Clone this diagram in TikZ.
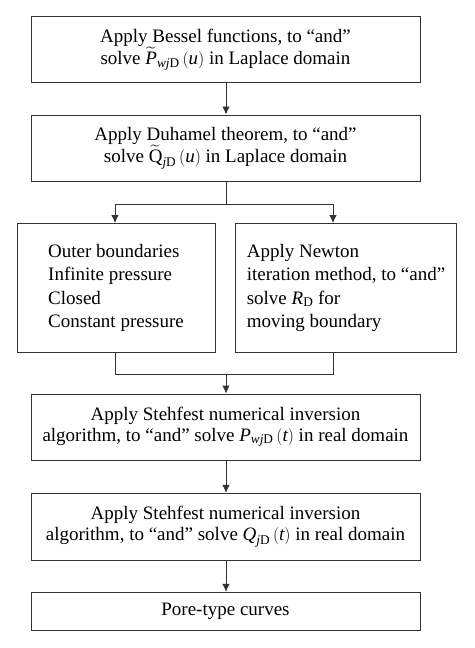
\documentclass[tikz,border=0pt]{standalone}
\usepackage{amsmath}
\usepackage{fontspec}
\setmainfont{Liberation Serif}
\usetikzlibrary{arrows.meta}
\begin{document}
\begin{tikzpicture}[x=1pt,y=-1pt,
  box/.style={draw=black!80, line width=0.9pt, inner sep=0pt, align=center,
    font=\fontsize{19}{20.5}\selectfont},
  sidebox/.style={box, align=left, font=\fontsize{19}{23.3}\selectfont},
  arr/.style={draw=black!80, line width=0.9pt, -{Latex[length=8pt,width=7.5pt]}},
  ln/.style={draw=black!80, line width=0.9pt}]
\useasboundingbox (0,0) rectangle (474,648);
\node[box, minimum width=389pt, minimum height=66pt] (b1) at (225.5,49.7)
  {Apply Bessel functions, to “and”\\ solve $\widetilde{\textit{P}}_{\textit{wj}\textrm{D}}\,(\textit{u})$ in Laplace domain};
\node[box, minimum width=389pt, minimum height=66.7pt] (b2) at (225.5,148.3)
  {Apply Duhamel theorem, to “and”\\ solve $\widetilde{\textrm{Q}}_{\textit{j}\textrm{D}}\,(\textit{u})$ in Laplace domain};
\node[sidebox, minimum width=198pt, minimum height=128.8pt] (bl) at (116,287.9)
  {Outer boundaries\\ Infinite pressure\\ Closed\\ Constant pressure};
\node[sidebox, minimum width=221.4pt, minimum height=128.8pt] (br) at (346,287.9)
  {Apply Newton\\ iteration method, to “and”\\ solve $\textit{R}_{\textrm{D}}$ for\\ moving boundary};
\node[box, minimum width=389pt, minimum height=66pt] (b4) at (225.5,427)
  {Apply Stehfest numerical inversion\\ algorithm, to “and” solve $\textit{P}_{\textit{wj}\textrm{D}}\,(\textit{t})$ in real domain};
\node[box, minimum width=389pt, minimum height=66.7pt] (b5) at (225.5,526.7)
  {Apply Stehfest numerical inversion\\ algorithm, to “and” solve $\textit{Q}_{\textit{j}\textrm{D}}\,(\textit{t})$ in real domain};
\node[box, minimum width=389pt, minimum height=37.7pt] (b6) at (225.5,611.2)
  {Pore-type curves};
\coordinate (s1) at (226,204.3);
\coordinate (sl) at (115,204.3);
\coordinate (sr) at (333,204.3);
\coordinate (m1) at (226,374);
\coordinate (ml) at (115,374);
\coordinate (mr) at (333,374);
\draw[arr] (b1.south -| s1) -- (b2.north -| s1);
\draw[ln] (b2.south -| s1) -- (s1);
\draw[ln] (sl) -- (sr);
\draw[arr] (sl) -- (bl.north -| sl);
\draw[arr] (sr) -- (br.north -| sr);
\draw[ln] (bl.south -| ml) -- (ml) -- (mr) -- (br.south -| mr);
\draw[arr] (m1) -- (b4.north -| m1);
\draw[arr] (b4.south -| m1) -- (b5.north -| m1);
\draw[arr] (b5.south -| m1) -- (b6.north -| m1);
\end{tikzpicture}
\end{document}
